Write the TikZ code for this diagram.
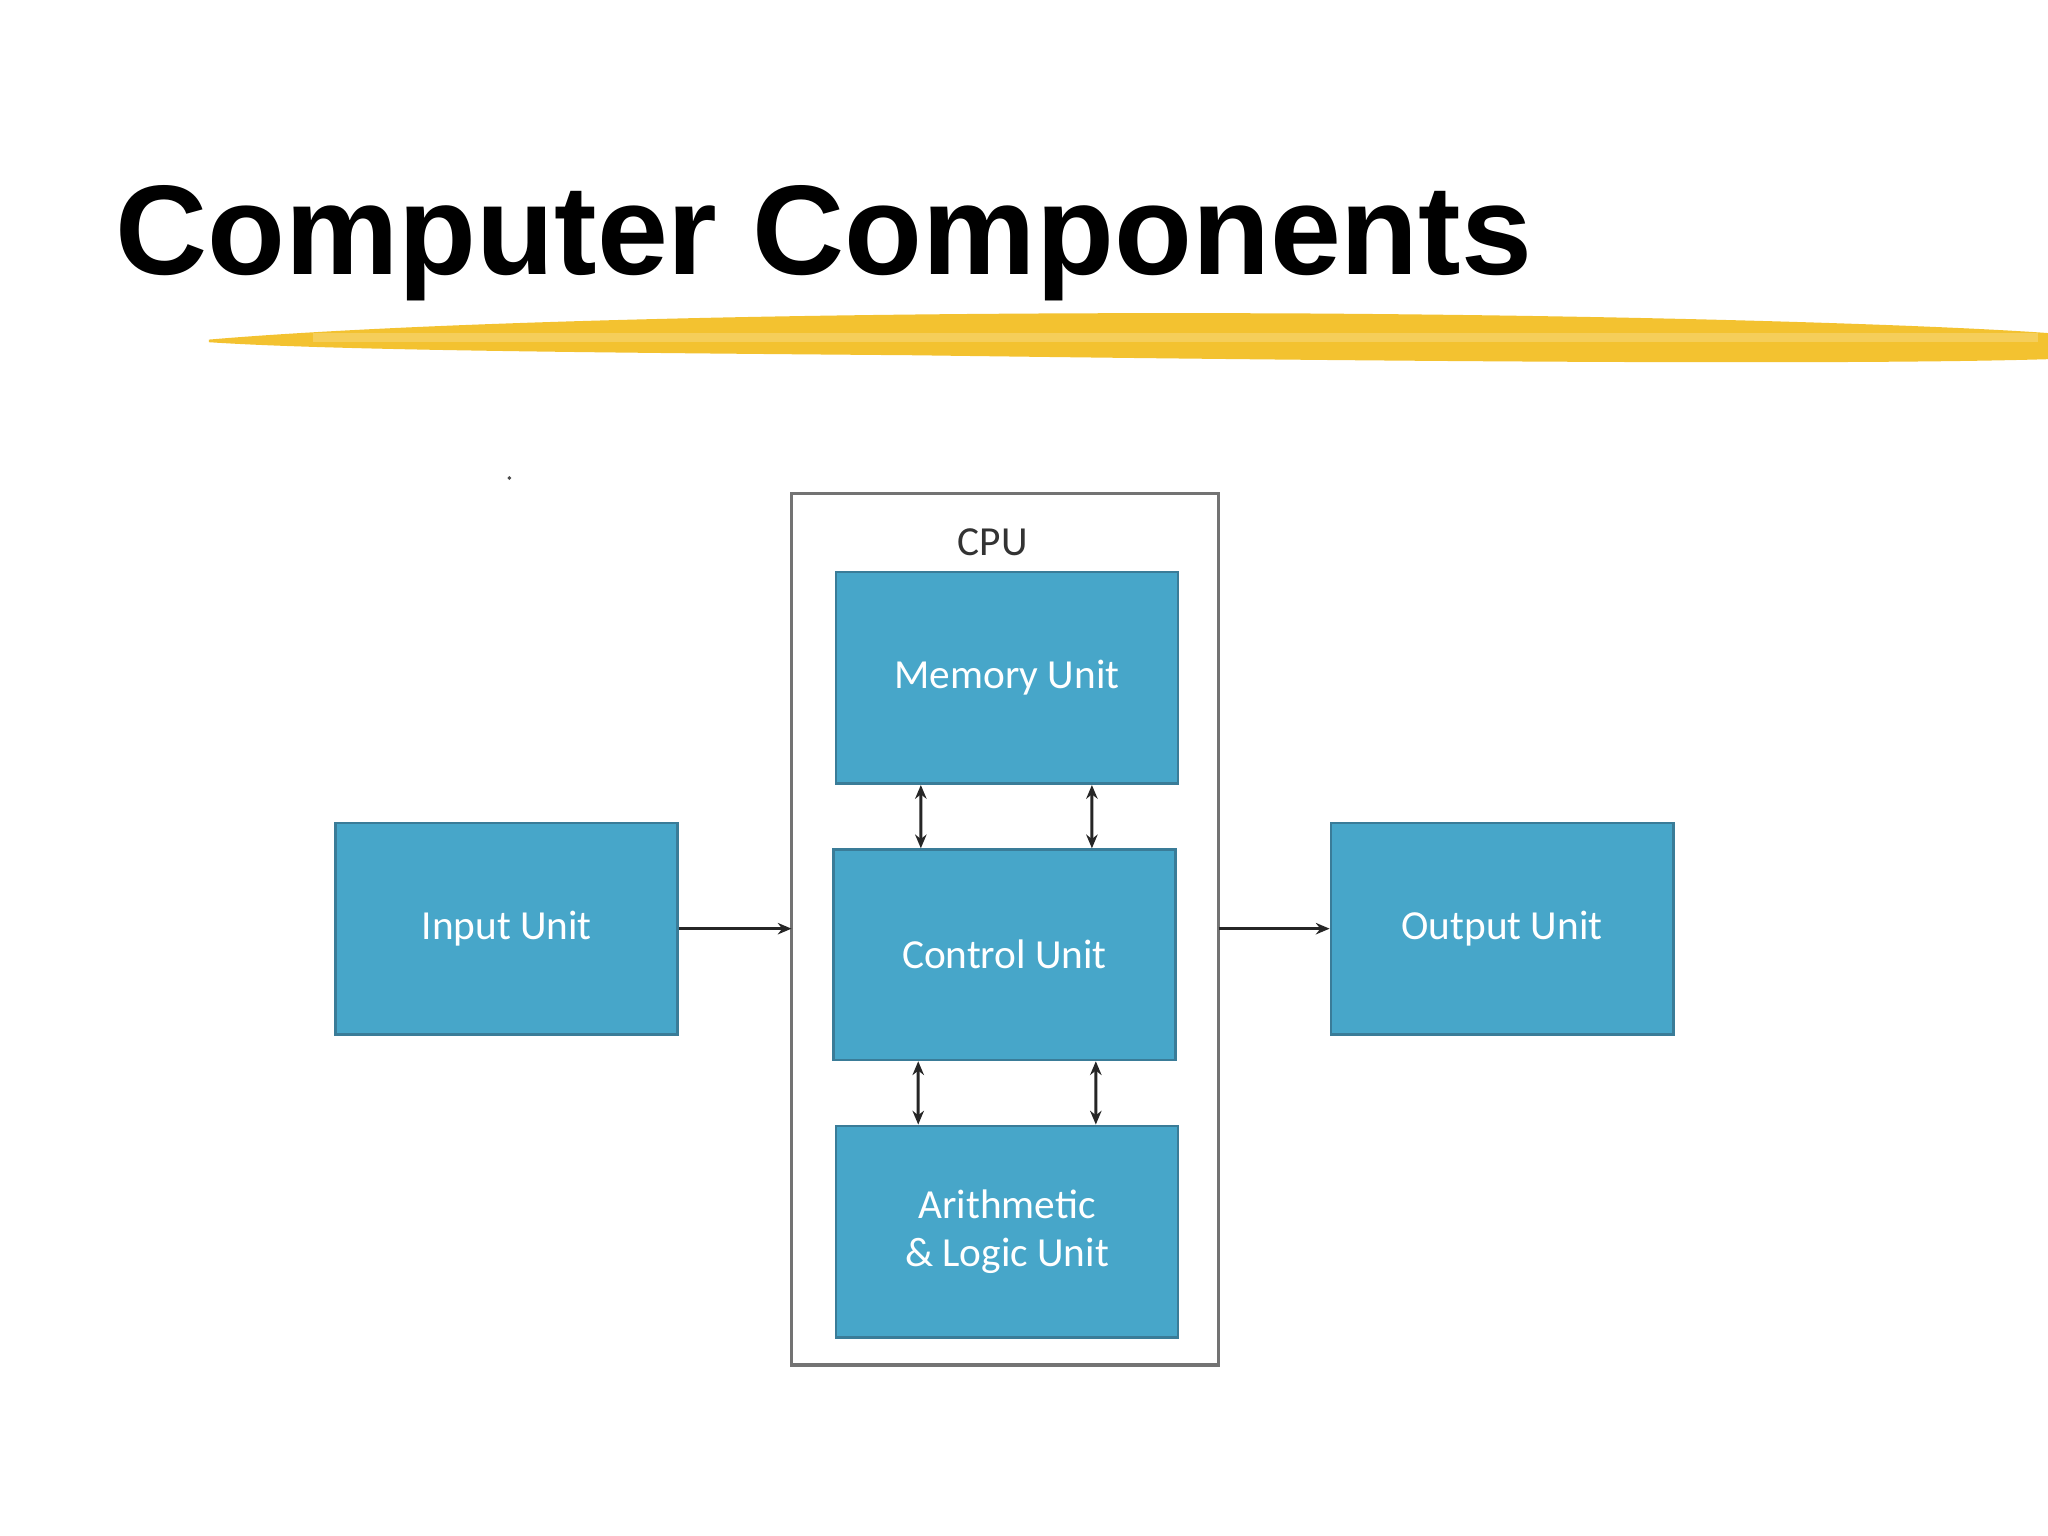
\documentclass[tikz,border=0pt]{standalone}
\usepackage{fontspec}
\setmainfont{Carlito}
\newfontfamily\titlefont{Liberation Sans}
\usetikzlibrary{arrows.meta}
\definecolor{boxblue}{HTML}{47A6C9}
\definecolor{boxedge}{HTML}{3A7C98}
\definecolor{brush}{HTML}{F3C230}
\begin{document}
\begin{tikzpicture}[x=0.02cm,y=-0.02cm,
  unit/.style={draw=boxedge,line width=1.2pt,fill=boxblue,text=white,font=\fontsize{18pt}{21pt}\selectfont,align=center,inner sep=0pt},
  arr/.style={-{Stealth[length=6pt,width=5pt]},line width=1.1pt,black!85},
  darr/.style={{Stealth[length=6pt,width=5pt]}-{Stealth[length=6pt,width=5pt]},line width=1.3pt,black!85}]
\useasboundingbox (0,0) rectangle (1568,1176);
\fill[white] (0,0) rectangle (1568,1176);
% title
\node[anchor=base west,inner sep=0pt] (title) at (88,210) {\resizebox{21.7cm}{!}{\titlefont\bfseries\fontsize{50pt}{60pt}\selectfont Computer Components}};
% brush stroke
\fill[brush] (160,260) .. controls (300,248) and (600,238) .. (1000,240) .. controls (1300,242) and (1500,250) .. (1568,255)
  -- (1568,275) .. controls (1400,280) and (1000,276) .. (700,272) .. controls (450,270) and (250,268) .. (160,262) -- cycle;
\fill[brush!80!white] (240,255) rectangle (1560,262);
% stray dot
\fill[black!70] (390,366) circle (1.5);
% CPU
\draw[draw=black!55,line width=1.5pt,fill=white] (606,378) rectangle (933,1045);
\coordinate (cpuW) at (606,711);
\coordinate (cpuE) at (933,711);
\node[font=\fontsize{18pt}{21pt}\selectfont,text=black!80] (cpu) at (760,415) {CPU};
% units
\node[unit,minimum width=5.24cm,minimum height=3.24cm] (mem) at (771,519) {Memory Unit};
\node[unit,minimum width=5.24cm,minimum height=3.22cm] (ctl) at (769,731) {Control Unit};
\node[unit,minimum width=5.24cm,minimum height=3.24cm] (alu) at (771,943) {Arithmetic\\\& Logic Unit};
\node[unit,minimum width=5.24cm,minimum height=3.24cm] (in) at (388,711) {Input Unit};
\node[unit,minimum width=5.24cm,minimum height=3.24cm] (out) at (1150,711) {Output Unit};
% arrows
\draw[arr] (in.east) -- (cpuW);
\draw[arr] (cpuE) -- (out.west);
\draw[darr] ([xshift=-1.32cm]mem.south) -- ([xshift=-1.28cm]ctl.north);
\draw[darr] ([xshift=1.3cm]mem.south) -- ([xshift=1.34cm]ctl.north);
\draw[darr] ([xshift=-1.32cm]ctl.south) -- ([xshift=-1.36cm]alu.north);
\draw[darr] ([xshift=1.4cm]ctl.south) -- ([xshift=1.36cm]alu.north);
\end{tikzpicture}
\end{document}
